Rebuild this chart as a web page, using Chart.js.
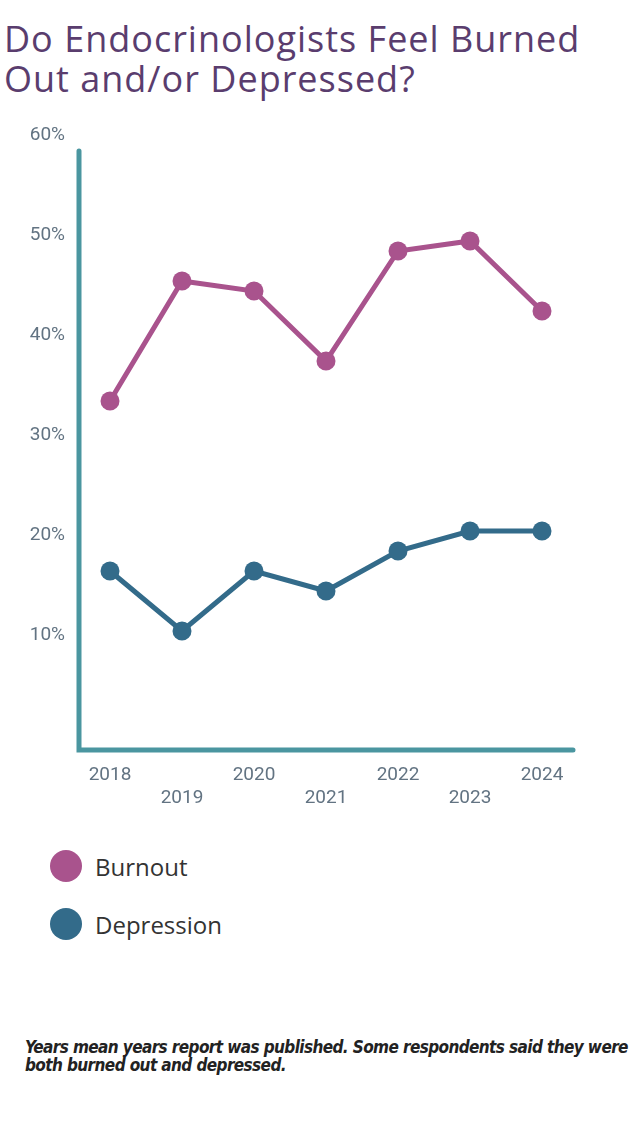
<!DOCTYPE html>
<html>
<head>
<meta charset="utf-8">
<script src="https://cdn.jsdelivr.net/npm/chart.js@4"></script>
<style>
  html, body { margin: 0; padding: 0; background: #fff; }
  body { width: 640px; height: 1126px; position: relative; overflow: hidden; }
  .title {
    position: absolute; left: 4px; top: 19px; margin: 0;
    font-family: "Open Sans", sans-serif; font-weight: 400; font-size: 36px;
    line-height: 40px; color: #5a3d6e; letter-spacing: 1px; white-space: nowrap;
  }
  .chart-box { position: absolute; left: 0; top: 100px; width: 640px; height: 720px; }
  .legend { position: absolute; left: 50px; top: 848px; font-family: "Open Sans", sans-serif; }
  .legend-item { display: flex; align-items: center; height: 36px; margin-bottom: 22px; font-size: 24px; color: #333; }
  .legend-dot { width: 32px; height: 32px; border-radius: 50%; margin-right: 13px; }
  .note {
    position: absolute; left: 25px; top: 1038px; white-space: nowrap;
    font-family: "DejaVu Sans Condensed", sans-serif;
    font-weight: bold; font-style: italic; font-size: 17px; line-height: 18px;
    letter-spacing: -0.6px; color: #222;
  }
</style>
</head>
<body>
<h1 class="title">Do Endocrinologists Feel Burned<br>Out and/or Depressed?</h1>
<div class="chart-box"><canvas id="lineChart"></canvas></div>
<div class="legend" id="legend"></div>
<div class="note">Years mean years report was published. Some respondents said they were<br>both burned out and depressed.</div>

<script>
const years = ['2018', '2019', '2020', '2021', '2022', '2023', '2024'];
const burnout = [33, 45, 44, 37, 48, 49, 42];
const depression = [16, 10, 16, 14, 18, 20, 20];
const yTicks = [10, 20, 30, 40, 50, 60];
const seriesNames = ['Burnout', 'Depression'];
const seriesColors = ['#a9538d', '#336b8a'];

document.addEventListener('DOMContentLoaded', function() {
    const axisColor = '#4a96a0';
    const tickColor = '#627382';
    const tickFont = { family: "Roboto, sans-serif", size: 19 };

    // L-shaped axis with rounded ends
    const axisLines = {
        id: 'axisLines',
        beforeDatasetsDraw(chart) {
            const ctx = chart.ctx;
            const a = chart.chartArea;
            const x0 = a.left + 5;
            const y0 = a.bottom - 1;
            const yTop = chart.scales.y.getPixelForValue(58);
            ctx.save();
            ctx.strokeStyle = axisColor;
            ctx.lineWidth = 5;
            ctx.lineCap = 'round';
            ctx.beginPath();
            ctx.moveTo(x0, yTop);
            ctx.lineTo(x0, y0);
            ctx.lineTo(a.right - 5, y0);
            ctx.stroke();
            ctx.restore();
        }
    };

    const canvas = document.getElementById('lineChart');
    new Chart(canvas.getContext('2d'), {
        type: 'line',
        data: {
            labels: years.map((y, i) => (i % 2 === 0 ? [y] : ['', y])),
            datasets: [burnout, depression].map((d, i) => ({
                label: seriesNames[i],
                data: d,
                borderColor: seriesColors[i],
                backgroundColor: seriesColors[i],
                pointBackgroundColor: seriesColors[i],
                pointBorderWidth: 0,
                pointRadius: 9.5,
                borderWidth: 5,
                tension: 0
            }))
        },
        options: {
            responsive: true,
            maintainAspectRatio: false,
            animation: false,
            layout: { padding: { top: 31, right: 62, bottom: 0, left: 0 } },
            plugins: { legend: { display: false }, tooltip: { enabled: false } },
            scales: {
                x: {
                    offset: true,
                    grid: { display: false, drawTicks: false },
                    border: { display: false },
                    ticks: { color: tickColor, font: tickFont, padding: 13, maxRotation: 0, autoSkip: false },
                    afterFit(s) { s.height = 69; }
                },
                y: {
                    min: -2,
                    max: 60,
                    afterBuildTicks(s) { s.ticks = yTicks.map(v => ({ value: v })); },
                    grid: { display: false, drawTicks: false },
                    border: { display: false },
                    ticks: { color: tickColor, font: tickFont, padding: 9, labelOffset: 4, callback: v => v + '%' },
                    afterFit(s) { s.width = 74; }
                }
            }
        },
        plugins: [axisLines]
    });

    const legend = document.getElementById('legend');
    seriesNames.forEach((name, i) => {
        const item = document.createElement('div');
        item.className = 'legend-item';
        item.innerHTML = `<span class="legend-dot" style="background:${seriesColors[i]}"></span><span>${name}</span>`;
        legend.appendChild(item);
    });
});
</script>
</body>
</html>
